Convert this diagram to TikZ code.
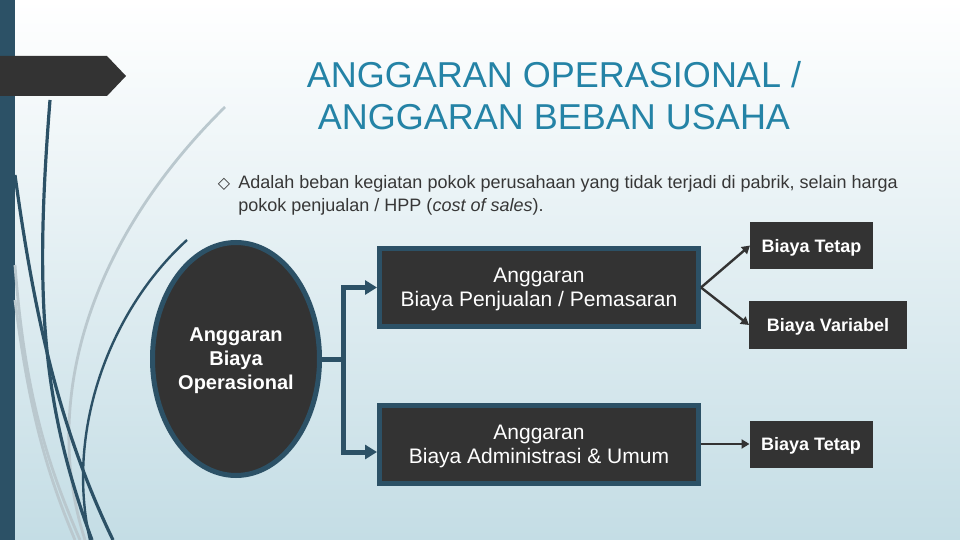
\documentclass[tikz,border=0pt]{standalone}
\usepackage{fontspec}
\setmainfont{Liberation Sans}
\newfontfamily\symfont{DejaVu Sans}
\usetikzlibrary{arrows.meta,shapes.geometric}

\definecolor{slate}{RGB}{44,81,102}
\definecolor{coal}{RGB}{51,51,51}
\definecolor{sky}{RGB}{196,221,229}
\definecolor{tealtitle}{RGB}{36,131,166}
\definecolor{mist}{RGB}{186,200,206}
\definecolor{ink}{RGB}{55,55,55}

\begin{document}
\begin{tikzpicture}
    [x=0.5pt,y=-0.5pt,
    budget/.style={ellipse,draw=slate,line width=2.5pt,fill=coal,inner sep=0pt,
        minimum width=83.5pt,minimum height=116.5pt,text=white,align=center,
        text depth=-6pt,font=\bfseries\fontsize{10}{12}\selectfont},
    main box/.style={rectangle,draw=slate,line width=2.5pt,fill=coal,inner sep=0pt,
        minimum width=159.5pt,minimum height=39pt,text=white,align=center,
        text depth=-2.5pt,font=\fontsize{10.5}{12}\selectfont},
    sub box/.style={rectangle,draw=black!80,line width=1pt,fill=coal,inner sep=0pt,
        minimum height=22.5pt,text=white,text depth=0pt,
        font=\bfseries\fontsize{9}{11}\selectfont},
    split/.style={draw=slate,line width=2.5pt},
    link/.style={draw=coal,line width=1.2pt,-{Triangle[length=4pt,width=4.5pt]}},
    swoosh/.style={draw=slate,line width=1.6pt},
    ghost/.style={draw=mist,line width=1.4pt}]
    % latar belakang slide
    \useasboundingbox (0,0) rectangle (960,540);
    \shade[top color=white,bottom color=sky] (0,0) rectangle (960,540);
    \fill[slate] (0,0) rectangle (15,540);
    % garis lengkung hiasan di kiri
    \draw[ghost] (225,107) .. controls (90,240) and (40,400) .. (85,540);
    \draw[ghost] (15,265) .. controls (25,400) and (50,470) .. (80,540);
    \draw[ghost] (15,300) .. controls (30,420) and (50,480) .. (75,540);
    \draw[swoosh] (50,100) .. controls (35,290) and (40,400) .. (92,540);
    \draw[swoosh] (15,175) .. controls (35,320) and (60,430) .. (113,540);
    \draw[swoosh,line width=1.2pt] (187,240) .. controls (110,310) and (65,430) .. (90,540);
    \fill[coal] (0,56) -- (107,56) -- (126,76) -- (107,96) -- (0,96) -- cycle;
    % judul dan keterangan
    \node[text=tealtitle,align=center,font=\fontsize{18}{21}\selectfont] (title) at (554,96)
        {ANGGARAN OPERASIONAL /\\ANGGARAN BEBAN USAHA};
    \node[anchor=west,inner sep=0pt,align=left,text=ink,font=\fontsize{9}{11.5}\selectfont] (lead) at (238,195)
        {Adalah beban kegiatan pokok perusahaan yang tidak terjadi di pabrik, selain harga\\
        pokok penjualan / HPP (\textit{cost of sales}).};
    \node[text=ink,inner sep=0pt,font=\symfont\fontsize{8}{8}\selectfont] (dot) at (224,184) {◇};
    % bagan anggaran
    \node[budget] (ops) at (236,359) {Anggaran\\Biaya\\Operasional};
    \node[main box] (sell) at (539,287.5) {Anggaran\\Biaya Penjualan / Pemasaran};
    \node[main box] (adm) at (539,444) {Anggaran\\Biaya Administrasi \& Umum};
    \node[sub box,minimum width=60.5pt] (fix1) at (811.5,245.5) {Biaya Tetap};
    \node[sub box,minimum width=78pt] (var) at (828,325) {Biaya Variabel};
    \node[sub box,minimum width=60.5pt] (fix2) at (811,444) {Biaya Tetap};
    \coordinate (fork) at (343,359);
    \draw[split] (ops.east) -- (fork);
    \draw[split,-{Triangle[length=6pt,width=7pt]}] (fork) |- (sell.west);
    \draw[split,-{Triangle[length=6pt,width=7pt]}] (fork) |- ([yshift=-4pt]adm.west);
    \draw[link] (sell.east) -- (fix1.west);
    \draw[link] (sell.east) -- (var.west);
    \draw[link] (adm.east) -- (fix2.west);
\end{tikzpicture}
\end{document}
